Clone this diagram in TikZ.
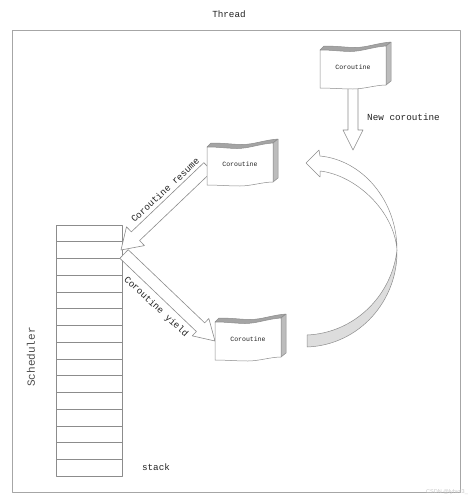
\documentclass[tikz,border=0pt]{standalone}
\usepackage{fontspec}
\setmainfont{Liberation Serif}
\newfontfamily\monof{Liberation Mono}
\newfontfamily\wmf{Liberation Sans}
\usetikzlibrary{calc}
\definecolor{edge}{HTML}{8C8C8C}
\definecolor{framec}{HTML}{A6A6A6}
\definecolor{topgray}{HTML}{A4A4A4}
\definecolor{sidegray}{HTML}{BCBCBC}
\definecolor{bandgray}{HTML}{DDDDDD}
\definecolor{txt}{HTML}{222222}

\newcommand\blockarrow[5]{%
  \coordinate (ba-h) at ($(#2)!#5!(#1)$);
  \draw[blk] ($(#1)!#3!90:(#2)$) -- ($(ba-h)!#3!90:(#2)$) -- ($(ba-h)!#4!90:(#2)$) -- (#2)
    -- ($(ba-h)!#4!-90:(#2)$) -- ($(ba-h)!#3!-90:(#2)$) -- ($(#1)!#3!-90:(#2)$) -- cycle;
}
\newcommand\corobox[4]{%
  \begin{scope}[shift={(#2,#3)}]
    \filldraw[draw=edge, fill=topgray, line width=0.5pt]
      (0,0) .. controls (12,0) and (22,1.5) .. (30,1.5) .. controls (42,1.5) and (52,-3) .. (66,-4)
      -- (71,-8) .. controls (57,-7) and (47,-2.5) .. (35,-2.5) .. controls (27,-2.5) and (17,-4) .. (4,-4) -- cycle;
    \filldraw[draw=edge, fill=sidegray, line width=0.5pt] (66,-4) -- (71,-8) -- (71,31) -- (66,35) -- cycle;
    \filldraw[draw=edge, fill=white, line width=0.5pt]
      (0,0) .. controls (12,0) and (22,1.5) .. (30,1.5) .. controls (42,1.5) and (52,-3) .. (66,-4)
      -- (66,35) .. controls (56,35) and (44,39) .. (33,39) .. controls (22,39) and (10,38) .. (0,38) -- cycle;
    \node[cortext, minimum width=66pt, minimum height=38pt] (#1) at (33,17) {#4};
  \end{scope}%
}

\begin{document}
\begin{tikzpicture}[x=1pt,y=-1pt, line join=round,
  blk/.style={draw=edge, fill=white, line width=0.6pt},
  lbl/.style={font=\monof\fontsize{9.3}{10}\selectfont, text=txt, inner sep=0pt},
  cortext/.style={font=\monof\fontsize{6.5}{7}\selectfont, text=txt, inner sep=0pt},
  rowline/.style={draw=edge, line width=0.6pt}]
\useasboundingbox (0,0) rectangle (474,499);

% frame
\node[draw=framec, line width=0.8pt, minimum width=448pt, minimum height=462pt, inner sep=0pt, anchor=north west] (frame) at (12,30) {};
\node[lbl] (thread) at (229,14) {Thread};

% stack
\node[draw=edge, line width=0.6pt, minimum width=66pt, minimum height=251pt, inner sep=0pt, anchor=north west] (stack) at (56,225) {};
\foreach \i in {1,...,14} {
  \draw[rowline] ($(stack.north west)+(0,\i*16.733)$) -- ($(stack.north east)+(0,\i*16.733)$);
}
\node[font=\monof\fontsize{11}{12}\selectfont, text=black!70, rotate=90, inner sep=0pt] (sched) at (31,357) {Scheduler};
\node[lbl] (stacklbl) at (156,467) {stack};

% curved arrow
\filldraw[draw=edge, fill=bandgray, line width=0.5pt]
  (397,250) .. controls (398,300) and (360,345) .. (307,347) -- (307,335)
  .. controls (355,333) and (392,295) .. (397,250) -- cycle;
\filldraw[draw=edge, fill=white, line width=0.5pt]
  (397,250) .. controls (397,200) and (362,160) .. (320,156) -- (319,150) -- (306,163) -- (320,177) -- (320,171)
  .. controls (355,175) and (394,210) .. (397,250) -- cycle;

% coroutine boxes' anchors used by arrows
\coordinate (c1c) at (353,67);
\coordinate (newtip) at (353,150);
\coordinate (c2w) at (208,167);
\coordinate (rtip) at (121,250);
\coordinate (ytail) at (124,254);
\coordinate (c3w) at (215,341);

% arrows (drawn under boxes)
\blockarrow{c1c}{newtip}{5pt}{10pt}{20pt}
\blockarrow{ytail}{c3w}{6pt}{12pt}{20pt}
\blockarrow{c2w}{rtip}{6pt}{13pt}{20pt}

% boxes
\corobox{coro1}{320}{50}{Coroutine}
\corobox{coro2}{207}{147}{Coroutine}
\corobox{coro3}{215}{322}{Coroutine}

% labels
\node[lbl, anchor=west] (newlbl) at (367,117) {New coroutine};
\node[lbl, rotate=43] (reslbl) at (165,190) {Coroutine resume};
\node[lbl, rotate=-43] (yldlbl) at (156,307) {Coroutine yield};
\node[font=\wmf\fontsize{5.5}{6}\selectfont, text=gray!45, inner sep=0pt] (wm) at (447,492) {CSDN @lyhvrl3\_};
\end{tikzpicture}
\end{document}
